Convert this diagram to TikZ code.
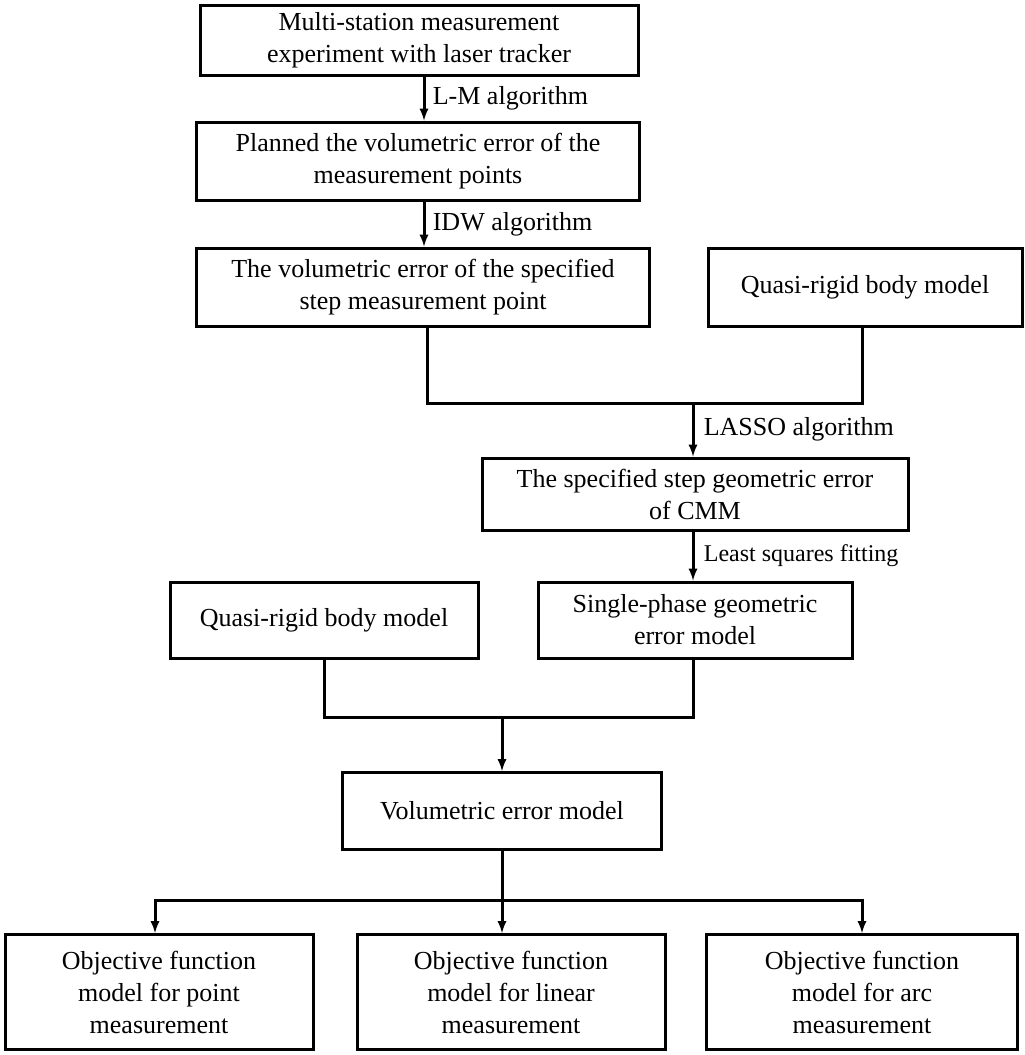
\documentclass[tikz,border=0pt]{standalone}
\usepackage{fontspec}
\setmainfont{Liberation Serif}
\usetikzlibrary{arrows,positioning,calc}

\begin{document}
\begin{tikzpicture}[x=1pt, y=-1pt, line width=3pt,
    box/.style={draw, align=center, inner sep=0pt, font=\fontsize{26}{32}\selectfont},
    lbl/.style={font=\fontsize{26}{32}\selectfont, anchor=west},
    >=latex]
    \useasboundingbox (0,0) rectangle (1025,1055);
    % Upper chain
    \node[box, minimum width=438, minimum height=70] (meas) at (419,40) {Multi-station measurement\\experiment with laser tracker};
    \node[box, minimum width=443, minimum height=78] (plan) at (418,161) {Planned the volumetric error of the\\measurement points};
    \node[box, minimum width=453, minimum height=78] (spec) at (423,287) {The volumetric error of the specified\\step measurement point};
    \node[box, minimum width=314, minimum height=78] (quasiR) at (865,287) {Quasi-rigid body model};
    \node[box, minimum width=426, minimum height=72] (geo) at (695,494) {The specified step geometric error\\of CMM};
    \node[box, minimum width=314, minimum height=76] (single) at (695,620) {Single-phase geometric\\error model};
    \node[box, minimum width=308, minimum height=76] (quasiL) at (324,620) {Quasi-rigid body model};
    \node[box, minimum width=319, minimum height=77] (vol) at (502,811) {Volumetric error model};

    % Objective functions
    \node[box, minimum width=308, minimum height=115] (point) at (159,992) {Objective function\\model for point\\measurement};
    \node[box, minimum width=308, minimum height=115] (linear) at (511,992) {Objective function\\model for linear\\measurement};
    \node[box, minimum width=311, minimum height=115] (arc) at (862,992) {Objective function\\model for arc\\measurement};

    % Junction points
    \coordinate (j1) at (693,403);
    \coordinate (j2) at (502,717);
    \coordinate (j3) at (502,900);

    % Connect nodes
    \draw[->] (meas.south -| 424,0) -- node[lbl, xshift=4pt] {L-M algorithm} (plan.north -| 424,0);
    \draw[->] (plan.south -| 424,0) -- node[lbl, xshift=4pt] {IDW algorithm} (spec.north -| 424,0);
    \draw (spec.south -| 427,0) |- (j1) -| (quasiR.south -| 862,0);
    \draw[->] (j1) -- node[lbl, xshift=6pt] {LASSO algorithm} (geo.north -| j1);
    \draw[->] (geo.south -| j1) -- node[lbl, xshift=6pt, font=\fontsize{24}{30}\selectfont] {Least squares fitting} (single.north -| j1);
    \draw (single.south -| j1) |- (j2) -| (quasiL.south);
    \draw[->] (j2) -- (vol.north);
    \draw (vol.south) -- (j3);
    \draw[->] (j3) -| (point.north -| 155,0);
    \draw[->] (j3) -| (linear.north -| 502,0);
    \draw[->] (j3) -| (arc.north);
\end{tikzpicture}
\end{document}
